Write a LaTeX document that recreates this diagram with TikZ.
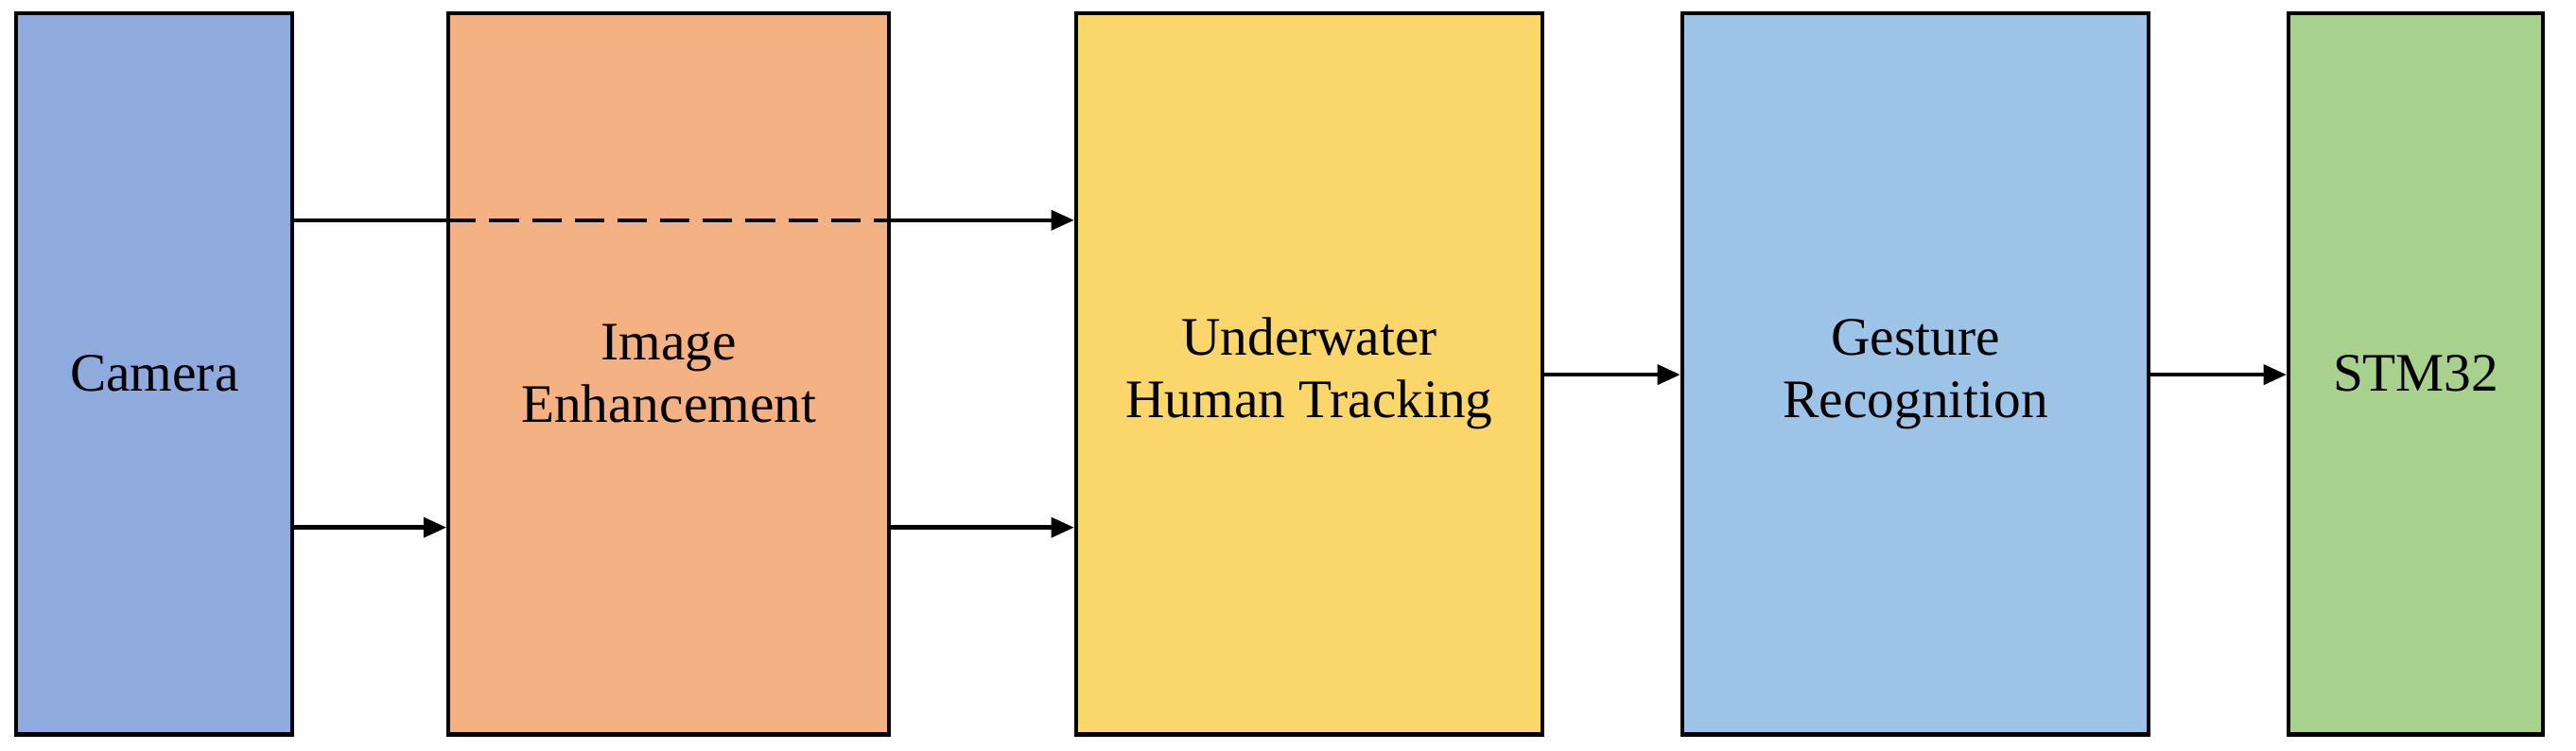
\documentclass[tikz,border=0pt]{standalone}
\usepackage{fontspec}
\setmainfont{Liberation Serif}
\usetikzlibrary{arrows.meta}
\definecolor{camc}{HTML}{8FAADC}
\definecolor{enhc}{HTML}{F4B183}
\definecolor{undc}{HTML}{FBD66A}
\definecolor{gesc}{HTML}{9DC3E6}
\definecolor{stmc}{HTML}{A9D18E}
\begin{document}
\begin{tikzpicture}[x=0.5pt,y=-0.5pt,
  blk/.style={draw=black,line width=1.2pt,minimum height=219.5pt,inner sep=0pt,align=center,
    font=\fontsize{16.5}{19}\selectfont},
  arr/.style={line width=1.3pt,-{Triangle[length=7pt,width=6pt]}}]
\useasboundingbox (0,0) rectangle (1568,457);
\node[blk,fill=camc,minimum width=84pt] (cam) at (94,227.5) {Camera};
\node[blk,fill=enhc,minimum width=134pt] (enh) at (407,227.5) {Image\\Enhancement};
\node[blk,fill=undc,minimum width=142pt] (und) at (797,227.5) {Underwater\\Human Tracking};
\node[blk,fill=gesc,minimum width=142pt] (ges) at (1166,227.5) {Gesture\\Recognition};
\node[blk,fill=stmc,minimum width=77.5pt] (stm) at (1470.5,227.5) {STM32};
\coordinate (top) at (0,134);
\coordinate (bot) at (0,321);
\coordinate (mid) at (0,228);
\draw[line width=1.3pt] (cam.east |- top) -- (enh.west |- top);
\draw[line width=1.3pt,dashed,dash pattern=on 9pt off 4pt] (enh.west |- top) -- (enh.east |- top);
\draw[arr] (enh.east |- top) -- (und.west |- top);
\draw[arr] (cam.east |- bot) -- (enh.west |- bot);
\draw[arr] (enh.east |- bot) -- (und.west |- bot);
\draw[arr] (und.east |- mid) -- (ges.west |- mid);
\draw[arr] (ges.east |- mid) -- (stm.west |- mid);
\end{tikzpicture}
\end{document}
